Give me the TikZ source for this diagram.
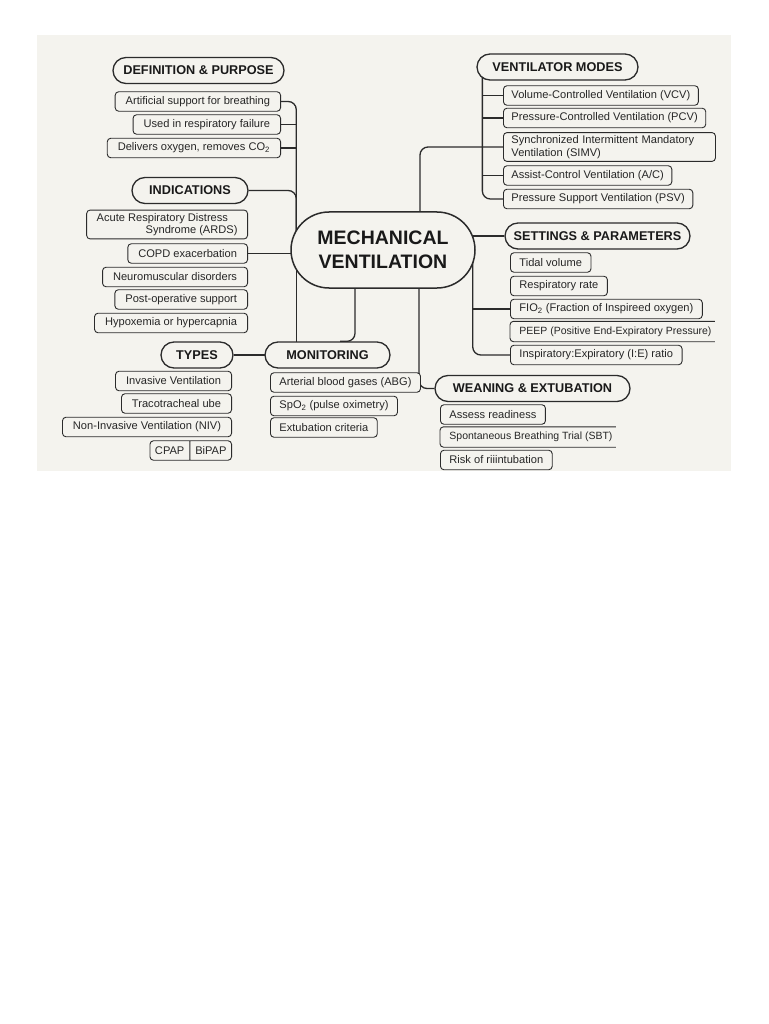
\documentclass[tikz,border=0pt]{standalone}
\usepackage{fontspec}
\setmainfont{Liberation Sans}
\usetikzlibrary{shapes.multipart,calc}
\definecolor{panel}{HTML}{F4F3EE}
\definecolor{ink}{HTML}{2B2B2B}
\pgfdeclarelayer{panellayer}
\pgfdeclarelayer{linelayer}
\pgfsetlayers{panellayer,linelayer,main}
\begin{document}
\begin{tikzpicture}[x=1pt,y=-1pt,
 head/.style={draw=ink, line width=1.3pt, fill=panel, rounded corners=13pt, minimum height=26pt, inner sep=0pt, font=\bfseries\fontsize{12.7}{15}\selectfont, text=black!90},
 item/.style={draw=ink, line width=0.9pt, fill=panel, rounded corners=3.5pt, minimum height=19.5pt, inner xsep=10.5pt, inner ysep=3pt, font=\fontsize{11.1}{12.5}\selectfont, text=black!85},
 openitem/.style={item, draw=none, font=\fontsize{10.5}{12.5}\selectfont},
 conn/.style={draw=ink, line width=1.3pt, rounded corners=8pt},
 ]
\useasboundingbox (0,0) rectangle (768,1024);
\begin{pgfonlayer}{panellayer}
\fill[white] (0,0) rectangle (768,1024);
\fill[panel] (37,35) rectangle (731,471);
\end{pgfonlayer}

% centre
\node[draw=ink, line width=1.5pt, fill=panel, rounded corners=38pt, minimum width=184pt, minimum height=76pt, inner sep=0pt, align=center, font=\bfseries\fontsize{19.5}{24}\selectfont, text=black!90] (c) at (383,250) {MECHANICAL\\VENTILATION};

% definition & purpose
\node[head, minimum width=171pt] (def) at (198.5,70.5) {DEFINITION \& PURPOSE};
\node[item, anchor=east] (a1) at (281,101.5) {Artificial support for breathing};
\node[item, anchor=east] (a2) at (281,124.5) {Used in respiratory failure};
\node[item, anchor=east] (a3) at (281,148) {Delivers oxygen, removes CO\textsubscript{2}};

% indications
\node[head, minimum width=116pt] (ind) at (190,190.5) {INDICATIONS};
\node[item, anchor=east, align=left, inner xsep=10pt] (ards) at (248,224.5) {Acute Respiratory Distress\\\hspace*{49pt}Syndrome (ARDS)};
\node[item, anchor=east] (copd) at (248,253.5) {COPD exacerbation};
\node[item, anchor=east] (neuro) at (248,277) {Neuromuscular disorders};
\node[item, anchor=east] (post) at (248,299.5) {Post-operative support};
\node[item, anchor=east] (hypo) at (248,323) {Hypoxemia or hypercapnia};

% types
\node[head, minimum width=72pt] (types) at (197,355) {TYPES};
\node[item, anchor=east] (inv) at (232,381) {Invasive Ventilation};
\node[item, anchor=east] (trac) at (232,403.5) {Tracotracheal ube};
\node[item, anchor=east] (niv) at (232,427) {Non-Invasive Ventilation (NIV)};
\node[item, anchor=east, rectangle split, rectangle split horizontal, rectangle split parts=2, inner xsep=5pt, inner ysep=4.5pt] (cp) at (232,450.5) {CPAP\nodepart{two}BiPAP};

% monitoring
\node[head, minimum width=125pt] (mon) at (327.5,355) {MONITORING};
\node[item, anchor=west, inner xsep=9pt] (abg) at (270,382.5) {Arterial blood gases (ABG)};
\node[item, anchor=west, inner xsep=9pt] (spo) at (270,406) {SpO\textsubscript{2} (pulse oximetry)};
\node[item, anchor=west, inner xsep=9pt] (ext) at (270,427.5) {Extubation criteria};

% ventilator modes
\node[head, minimum width=161pt] (vm) at (557.5,67) {VENTILATOR MODES};
\node[item, anchor=west, inner xsep=8pt] (vcv) at (503,95.5) {Volume-Controlled Ventilation (VCV)};
\node[item, anchor=west, inner xsep=8pt] (pcv) at (503,118) {Pressure-Controlled Ventilation (PCV)};
\node[item, anchor=west, align=left, inner xsep=8pt, text width=196pt] (simv) at (503,147) {Synchronized Intermittent Mandatory\\Ventilation (SIMV)};
\node[item, anchor=west, inner xsep=8pt] (ac) at (503,175.5) {Assist-Control Ventilation (A/C)};
\node[item, anchor=west, inner xsep=8pt] (psv) at (503,199) {Pressure Support Ventilation (PSV)};

% settings
\node[head, minimum width=185pt] (set) at (597.5,236) {SETTINGS \& PARAMETERS};
\node[item, anchor=west, inner xsep=9pt] (tidal) at (510,262.5) {Tidal volume};
\node[item, anchor=west, inner xsep=9pt] (rr) at (510,286) {Respiratory rate};
\node[item, anchor=west, inner xsep=9pt] (fio) at (510,309) {FIO\textsubscript{2} (Fraction of Inspireed oxygen)};
\node[openitem, anchor=west, inner xsep=9pt] (peep) at (510,331.5) {PEEP (Positive End-Expiratory Pressure)};
\draw[ink, line width=0.9pt, rounded corners=3.5pt] ([xshift=-6pt]peep.north east) -- (peep.north west) -- (peep.south west) -- ([xshift=-6pt]peep.south east);
\node[item, anchor=west, inner xsep=9pt] (ie) at (510,355) {Inspiratory:Expiratory (I:E) ratio};

% weaning
\node[head, minimum width=195pt] (wean) at (532.5,388.5) {WEANING \& EXTUBATION};
\node[item, anchor=west, inner xsep=9pt] (assess) at (440,414.5) {Assess readiness};
\node[openitem, anchor=west, inner xsep=9pt] (sbt) at (440,437) {Spontaneous Breathing Trial (SBT)};
\draw[ink, line width=0.9pt, rounded corners=3.5pt] ([xshift=-6pt]sbt.north east) -- (sbt.north west) -- (sbt.south west) -- ([xshift=-6pt]sbt.south east);
\node[item, anchor=west, inner xsep=9pt] (risk) at (440,460) {Risk of riiintubation};

% trunk coordinates
\coordinate (lt) at ([xshift=6pt]c.west);
\coordinate (mt) at ([xshift=-28pt]c.center);
\coordinate (wt) at ([xshift=36pt]c.center);
\coordinate (vt) at ([xshift=37pt]c.center);
\coordinate (st) at ([xshift=-3pt]c.east);
\coordinate (vmt) at ([xshift=6pt]vm.west);

\begin{pgfonlayer}{linelayer}
\draw[conn] (a1.east) -| (lt);
\draw[conn] (a2.east) -- (a2.east -| lt);
\draw[conn] (a3.east) -- (a3.east -| lt);
\draw[conn] (ind.east) -| (lt);
\draw[conn] (copd.east) -- (copd.east -| c.center);
\draw[conn] (types.east) -- (mon.center);
\draw[conn] (lt) -- (lt |- mon.center);
\draw[conn] (mt) -- (mt |- mon.north) -- ([xshift=-15pt]mt |- mon.north);
\draw[conn] (wt) |- (wean.west);
\draw[conn] (set.west) -- (set.west -| c.center);
\draw[conn] (st) |- (ie.west);
\draw[conn] (fio.west) -- (fio.west -| st);
\draw[conn] (vmt) |- (psv.west);
\draw[conn] (vcv.west) -- (vcv.west -| vmt);
\draw[conn] (pcv.west) -- (pcv.west -| vmt);
\draw[conn] (ac.west) -- (ac.west -| vmt);
\draw[conn] (simv.west) -| (vt);
\end{pgfonlayer}
\end{tikzpicture}
\end{document}
